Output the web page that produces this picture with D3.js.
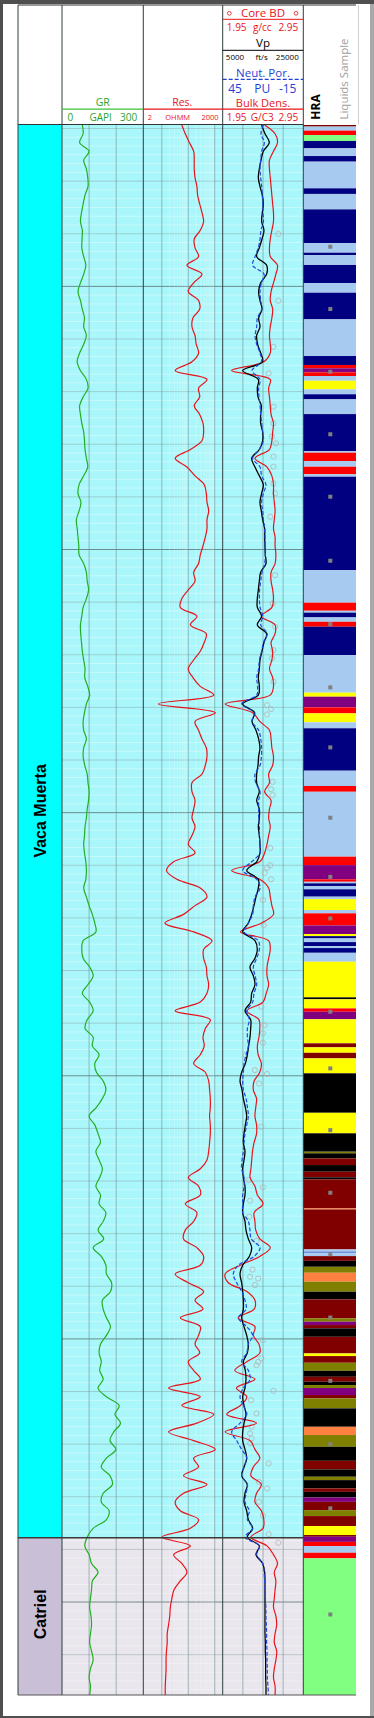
<!DOCTYPE html>
<html><head><meta charset="utf-8">
<script src="https://cdn.jsdelivr.net/npm/d3@7"></script>
<style>body{margin:0;background:#fff}svg{display:block}</style>
</head><body><svg id="c" width="374" height="1718"></svg>
<script>
// ---------------- DATA ----------------
const DEPTH_TOP = 9058, DEPTH_STEP = 5, DEPTH_BASE = 9953;

const GR = [75,78,65,100,80,90,95,96,85,78,72,68,75,74,73,80,88,80,68,59,68,75,83,80,90,
80,65,56,68,90,96,78,65,68,73,80,83,85,90,95,80,63,59,70,63,53,56,59,62,63,
80,90,93,98,90,78,73,68,69,72,75,80,85,84,95,102,90,83,78,80,90,80,78,84,93,
96,100,98,93,90,85,83,80,83,88,90,88,80,90,100,112,121,125,78,73,78,102,115,96,75,
102,115,93,85,115,112,137,121,127,152,162,149,127,100,121,133,142,125,137,149,139,125,142,137,162,
152,133,154,115,145,162,164,183,179,149,152,164,179,164,142,137,145,139,152,133,164,211,195,216,191,
177,199,164,145,177,186,152,145,174,164,115,93,84,100,109,133,112,109,105,102,107,109,105,102,109,115,105,100,105,102];

const RES = [57,77,110,160,168,168,180,212,225,270,330,380,285,168,180,245,89,330,160,100,245,270,150,138,180,
200,245,138,32,510,245,270,168,270,360,380,330,120,32,89,180,400,480,510,590,510,510,440,360,285,
245,160,180,100,57,50,212,120,480,400,285,160,100,150,285,920,7.5,1050,180,245,330,480,510,440,330,
138,138,180,160,138,180,138,100,180,28,15,37,285,510,180,66,13,160,790,380,380,480,510,590,510,
285,32,680,440,360,400,285,160,440,590,640,680,680,640,680,680,640,590,510,285,100,245,285,77,212,
160,77,66,212,380,285,32,100,380,180,360,50,285,245,180,270,100,160,285,18,285,57,920,212,18,
160,1050,160,245,66,510,66,32,50,245,120,10,120,28,57,89,50,29,24,21,20,18,16,16,15,14.5,14.5,14,13.5,13.5];

const VP = [14660,15490,16560,15080,14500,14090,13840,14250,14830,15080,14830,14660,15240,14750,14090,13430,15900,15900,14420,13920,14250,14750,13920,14250,13430,
13670,14420,14910,9960,13840,13590,13760,14580,14420,14420,14910,14910,14090,12190,13010,14090,15080,14660,14250,14580,14910,15410,15410,15490,15570,
15740,14420,14090,13840,13590,13590,14660,13590,15900,15240,14750,14250,14090,13840,14090,13840,9960,12930,12270,13260,13920,14250,13920,13760,13430,
13430,14090,13430,14090,14090,13840,14090,14250,14250,13430,10950,13840,13840,13260,12760,12190,11360,9960,13010,13590,13010,11770,12600,13010,12190,
11940,10530,11940,11940,11770,11440,11110,10620,9700,9300,9790,10120,10620,10950,10620,10290,10120,10530,10290,9960,10120,10530,10530,10120,9960,
10530,10780,11360,12190,11610,9960,9300,9700,9960,10120,10120,9700,10290,10950,11360,11110,10120,10620,10780,10530,9960,10290,10780,10290,9960,
9960,10530,10950,10290,9700,11110,10530,10290,10950,11360,12430,11110,14090,13260,14910,15410,15490,15490,15490,15490,15490,15490,15490,15570,15570,15660,15660,15660,15740,15740];

const NPHI = [14.7,16.5,14.0,16.0,16.7,17.2,16.7,16.0,15.5,15.2,15.0,14.7,16.5,17.2,18.5,20.9,22.7,14.2,16.2,17.2,16.7,16.0,19.2,19.7,20.9,
19.7,17.2,16.2,23.2,17.2,18.2,18.0,17.2,16.7,16.0,15.2,14.7,17.7,22.7,17.2,16.0,12.8,14.7,16.0,15.2,14.7,13.8,13.5,13.5,13.3,
13.8,15.7,16.7,17.5,17.7,17.2,15.2,16.7,11.8,14.7,16.0,17.7,18.2,19.7,19.0,19.7,30.9,21.7,23.2,18.2,16.7,16.0,16.2,17.2,20.9,
20.4,17.2,18.2,18.2,18.2,17.7,17.7,17.2,17.2,23.4,30.1,19.7,17.2,20.9,22.2,22.7,25.9,29.1,18.5,17.7,19.7,22.2,20.9,19.7,21.7,
22.7,27.1,25.2,26.6,26.6,25.9,27.6,29.1,29.6,30.1,29.6,27.6,26.6,25.9,27.1,28.4,29.1,29.6,30.6,30.9,29.1,29.1,30.1,30.1,30.1,
25.9,24.7,23.7,17.2,21.7,33.3,37.1,34.6,30.9,28.4,27.6,33.3,27.1,22.7,25.9,27.1,30.9,25.9,24.7,29.6,32.1,29.6,27.1,32.1,38.3,
34.6,30.9,27.1,29.1,30.9,26.6,27.6,28.4,25.2,26.6,22.7,28.4,17.7,19.7,15.2,14.2,13.8,13.5,13.3,12.8,12.8,12.5,12.3,12.3,12.0,12.0,11.8,11.8,11.3,11.0];

const RHOB = [2.47,2.60,2.63,2.58,2.53,2.53,2.54,2.55,2.56,2.57,2.58,2.58,2.56,2.54,2.53,2.54,2.63,2.61,2.58,2.55,2.54,2.57,2.56,2.54,2.53,
2.54,2.54,2.46,2.06,2.54,2.52,2.53,2.54,2.55,2.58,2.57,2.56,2.53,2.35,2.50,2.56,2.58,2.58,2.59,2.60,2.59,2.58,2.60,2.60,2.61,
2.60,2.55,2.55,2.57,2.58,2.56,2.43,2.60,2.60,2.55,2.57,2.56,2.53,2.57,2.58,2.54,1.98,2.32,2.41,2.53,2.55,2.56,2.58,2.57,2.52,
2.53,2.47,2.55,2.53,2.52,2.54,2.52,2.50,2.47,2.41,2.06,2.41,2.52,2.54,2.56,2.58,2.43,2.17,2.52,2.54,2.52,2.50,2.50,2.52,2.49,
2.45,2.25,2.40,2.41,2.40,2.38,2.39,2.43,2.41,2.34,2.33,2.37,2.36,2.35,2.37,2.37,2.34,2.32,2.31,2.30,2.29,2.35,2.38,2.45,2.34,
2.35,2.36,2.41,2.54,2.41,2.17,1.98,2.02,2.25,2.35,2.34,2.14,2.35,2.33,2.40,2.41,2.25,2.10,2.35,2.12,2.25,2.17,2.00,2.37,1.98,
2.29,2.35,2.41,2.33,2.30,2.43,2.37,2.35,2.43,2.46,2.45,2.30,2.50,2.58,2.63,2.59,2.61,2.60,2.59,2.58,2.61,2.62,2.60,2.59,2.62,2.61,2.59,2.58,2.60,2.60];

const CORE_DEPTH = [9120.1,9158.2,9184.4,9199.6,9218.6,9228.0,9235.7,9239.5,9247.0,9252.8,9262.3,9268.0,9281.3,9314.6,9330.7,9344.0,9357.3,9362.0,9375.4,9388.7,
9391.0,9394.0,9432.4,9436.6,9440.0,9470.2,9480.0,9481.5,9484.3,9488.0,9499.8,9514.1,9560.7,9571.1,9575.8,9581.2,9588.2,9596.8,9599.0,9604.4,
9629.1,9659.5,9663.6,9671.2,9680.3,9694.1,9710.5,9714.6,9715.6,9719.3,9750.7,9761.1,9763.1,9765.0,9779.6,9784.9,9792.5,9800.1,9803.9,9806.7,
9809.6,9821.0,9831.5,9835.3,9842.9,9850.8,9861.3,9866.2];
const CORE_BD = [2.64,2.64,2.58,2.52,2.58,2.58,2.56,2.61,2.58,2.58,2.58,2.60,2.54,2.60,2.57,2.60,2.58,2.56,2.58,2.50,
2.55,2.50,2.57,2.55,2.57,2.54,2.54,2.50,2.47,2.55,2.45,2.46,2.43,2.47,2.45,2.45,2.23,2.35,2.50,2.40,
2.43,2.27,2.45,2.29,2.28,2.37,2.32,2.29,2.39,2.35,2.45,2.43,2.39,2.37,2.58,2.30,2.37,2.31,2.29,2.31,
2.29,2.52,2.40,2.50,2.40,2.45,2.52,2.64];

const HRA_TOP = [9058.0,9058.9,9061.2,9063.7,9067.1,9071.3,9075.7,9078.9,9094.1,9097.3,
9106.1,9125.4,9130.8,9132.1,9137.8,9148.2,9153.6,9168.8,9189.7,9194.8,
9196.7,9199.0,9201.1,9203.8,9208.7,9211.5,9214.4,9222.8,9243.9,9244.8,
9249.6,9252.8,9257.1,9258.5,9311.7,9330.3,9334.9,9336.0,9338.7,9341.2,
9344.0,9360.2,9381.6,9383.9,9390.0,9393.4,9398.5,9401.9,9426.1,9434.8,
9438.1,9475.1,9479.9,9488.0,9489.4,9490.3,9491.8,9493.7,9497.9,9499.3,
9505.5,9507.4,9514.3,9519.2,9520.4,9521.7,9523.8,9526.1,9527.2,9529.9,
9535.0,9555.3,9556.4,9561.6,9563.5,9567.8,9581.5,9583.8,9586.9,9590.1,
9598.6,9621.1,9632.8,9643.3,9644.2,9647.1,9650.9,9654.7,9657.9,9659.1,
9675.6,9676.2,9699.0,9700.1,9701.2,9702.8,9705.5,9708.9,9712.3,9717.4,
9723.1,9727.5,9738.3,9740.2,9742.1,9744.0,9748.8,9758.3,9759.8,9763.6,
9768.2,9771.6,9774.4,9776.3,9778.0,9782.0,9783.9,9789.6,9800.1,9804.8,
9811.5,9819.5,9824.4,9828.6,9830.5,9835.2,9837.2,9840.4,9842.9,9847.6,
9851.0,9856.7,9861.8,9862.8,9865.7,9868.1,9871.9,9875.1];
const HRA_FACIES = ["D","L","R","G","N","L","N","L","N","L",
"N","L","N","L","N","L","N","L","N","R",
"P","R","L","Y","L","N","L","N","L","R",
"L","R","L","N","L","R","L","N","L","R",
"N","L","Y","P","R","Y","L","N","L","R",
"L","R","P","R","L","N","L","N","L","Y",
"L","R","P","Y","N","L","N","L","N","L",
"Y","K","Y","R","P","Y","D","Y","D","Y",
"K","Y","K","O","K","D","K","D","K","D",
"A","D","L","M","L","D","K","O","A","O",
"K","D","O","P","D","K","D","Y","D","O",
"K","D","K","O","P","D","O","K","A","O",
"K","D","K","O","K","D","K","P","D","O",
"D","Y","D","P","R","L","R","G"];
const FACIES_COLOR = {N:"#000080",L:"#A6CAF0",R:"#FF0000",G:"#80FF80",Y:"#FFFF00",P:"#800080",
  K:"#000000",D:"#800000",O:"#808000",A:"#FF8040",M:"#6A8FD8"};

const SAMPLE_DEPTH = [9127.4,9162.9,9198.7,9234.3,9269.9,9306.4,9342.5,9378.6,9412.8,9452.9,9486.6,
9510.3,9563.5,9595.8,9631.0,9666.7,9701.7,9737.8,9773.9,9810.0,9846.6,9907.1];

const ZONE_NAMES = ["Vaca Muerta","Catriel"];
const ZONE_TOPS = [9058, 9863.4];
const ZONE_LABEL_DEPTH = [9449, 9907];

// --------------- DRAW ----------------
const svg = d3.select("#c");
const FONT = "'Open Sans', 'Liberation Sans', sans-serif";
const X = {zone:[18,62], gr:[62,143.3], res:[143.3,222.7], den:[222.7,303.3], hra:[303.3,356]};
const HY0 = 5, HY1 = 124.5, DY0 = 125, DY1 = 1695;
const y = d3.scaleLinear().domain([DEPTH_TOP, DEPTH_BASE]).range([DY0, DY1]);
const depths = GR.map((_, i) => DEPTH_TOP + i * DEPTH_STEP);

const xGR = d3.scaleLinear().domain([0,300]).range(X.gr);
const xRES = d3.scaleLog().domain([2,2000]).range(X.res);
const xRHOB = d3.scaleLinear().domain([1.95,2.95]).range(X.den);
const xVP = d3.scaleLinear().domain([5000,25000]).range(X.den);
const xNPHI = d3.scaleLinear().domain([45,-15]).range(X.den);

// frame
svg.append("rect").attr("width",374).attr("height",1718).attr("fill","#4f4f4f");
svg.append("rect").attr("x",3).attr("y",4).attr("width",367.5).attr("height",1712).attr("fill","#fff");
svg.append("rect").attr("x",370.5).attr("y",4).attr("width",3.5).attr("height",1712).attr("fill","#a9a9a9");

// zone backgrounds
const zoneFill = ["#00FFFF","#C9BFD6"], trackFill = ["#A9F7FB","#E9E6ED"];
ZONE_TOPS.forEach((t,i) => {
  const b = i < ZONE_TOPS.length-1 ? ZONE_TOPS[i+1] : DEPTH_BASE;
  svg.append("rect").attr("x",X.zone[0]).attr("y",y(t)).attr("width",X.zone[1]-X.zone[0]).attr("height",y(b)-y(t)).attr("fill",zoneFill[i]);
  svg.append("rect").attr("x",X.gr[0]).attr("y",y(t)).attr("width",X.den[1]-X.gr[0]).attr("height",y(b)-y(t)).attr("fill",trackFill[i]);
});

// grid
const grid = svg.append("g");
const hl = (d, col, op, w) => grid.append("line").attr("x1",X.gr[0]).attr("x2",X.den[1]).attr("y1",y(d)).attr("y2",y(d))
  .attr("stroke",col).attr("stroke-opacity",op).attr("stroke-width",w);
d3.range(9060, DEPTH_BASE, 5).forEach(d => {
  if (d % 150 === 0) hl(d,"#5f7a7c",0.85,1);
  else if (d % 30 === 0) hl(d,"#8a9ea0",0.45,1);
  else hl(d,"#ffffff",0.45,0.8);
});
const vl = (x, col, op, w) => grid.append("line").attr("x1",x).attr("x2",x).attr("y1",DY0).attr("y2",DY1)
  .attr("stroke",col).attr("stroke-opacity",op).attr("stroke-width",w);
[20,30,40,50,60,70,80,90,200,300,400,500,600,700,800,900].forEach(v => vl(xRES(v),"#ffffff",0.3,0.8));
[100,200].forEach(v => vl(xGR(v),"#6f8f92",0.6,1));
[10,100,1000].forEach(v => vl(xRES(v),"#6f8f92",0.6,1));
[2.20,2.45,2.70].forEach(v => vl(xRHOB(v),"#6f8f92",0.6,1));

// clip paths
const defs = svg.append("defs");
["gr","res","den"].forEach(k => defs.append("clipPath").attr("id","clip-"+k).append("rect")
  .attr("x",X[k][0]).attr("y",DY0).attr("width",X[k][1]-X[k][0]).attr("height",DY1-DY0));

const curve = (vals, xs, col, w, dash, clip) => {
  const line = d3.line().x(d => xs(d[1])).y(d => y(d[0])).curve(d3.curveCatmullRom.alpha(0.5));
  const p = svg.append("path").attr("d", line(vals.map((v,i) => [depths[i], v])))
    .attr("fill","none").attr("stroke",col).attr("stroke-width",w).attr("clip-path","url(#clip-"+clip+")")
    .attr("stroke-linejoin","round");
  if (dash) p.attr("stroke-dasharray",dash);
};
curve(GR, xGR, "#22b022", 1.2, null, "gr");
curve(RES, xRES, "#e8141c", 1.2, null, "res");

// core BD
svg.append("g").attr("clip-path","url(#clip-den)").selectAll("circle").data(CORE_DEPTH.map((d,i)=>[d,CORE_BD[i]]))
  .join("circle").attr("cx",d=>xRHOB(d[1])).attr("cy",d=>y(d[0])).attr("r",2.6)
  .attr("fill","none").attr("stroke","#b4b4b4").attr("stroke-width",0.8);
curve(RHOB, xRHOB, "#e8141c", 1.2, null, "den");
curve(VP, xVP, "#000000", 1.3, null, "den");
curve(NPHI, xNPHI, "#1f47e0", 1.2, "4,2", "den");

// HRA
HRA_TOP.forEach((t,i) => {
  const b = i < HRA_TOP.length-1 ? HRA_TOP[i+1] : DEPTH_BASE;
  svg.append("rect").attr("x",X.hra[0]).attr("y",y(t)).attr("width",X.hra[1]-X.hra[0])
    .attr("height",Math.max(0.5,y(b)-y(t))).attr("fill",FACIES_COLOR[HRA_FACIES[i]]);
});
svg.selectAll("rect.smp").data(SAMPLE_DEPTH).join("rect").attr("class","smp")
  .attr("x",328.3).attr("y",d=>y(d)-2).attr("width",4).attr("height",4).attr("fill","#808080");

// zone boundary line
ZONE_TOPS.slice(1).forEach(t => svg.append("line").attr("x1",X.zone[0]).attr("x2",X.den[1])
  .attr("y1",y(t)).attr("y2",y(t)).attr("stroke","#3a3a3a").attr("stroke-width",1.5));

// zone labels
ZONE_NAMES.forEach((n,i) => {
  svg.append("text").attr("transform",`translate(${(X.zone[0]+X.zone[1])/2+6},${y(ZONE_LABEL_DEPTH[i])}) rotate(-90)`)
    .attr("text-anchor","middle").attr("font-family","'Liberation Sans', Arial, sans-serif").attr("font-weight","bold")
    .attr("font-size",16).attr("fill","#000").text(n);
});

// borders
const bl = (x1,y1,x2,y2,col,w) => svg.append("line").attr("x1",x1).attr("y1",y1).attr("x2",x2).attr("y2",y2)
  .attr("stroke",col||"#333").attr("stroke-width",w||1);
[18,62,143.3,222.7,303.3].forEach(x => bl(x,HY0,x,DY1,"#2f3f40",1));
bl(18,HY0,356,HY0,"#333",1);
bl(18,HY1,303.3,HY1,"#333",1);
bl(18,DY1,356,DY1,"#555",1);
bl(358.5,HY0,358.5,HY1,"#cfcfcf",1);

// header
const T = (x,yy,s,col,size,anchor,weight) => svg.append("text").attr("x",x).attr("y",yy).attr("fill",col)
  .attr("font-size",size).attr("font-family",FONT).attr("text-anchor",anchor||"middle")
  .attr("font-weight",weight||"normal").text(s);
const GREEN="#2aa52a", RED="#e8141c", BLUE="#1f3fd8";
// GR
T(102.7,106.3,"GR",GREEN,10.5);
bl(62,109.2,143.3,109.2,"#3cc03c",1.3);
T(70.3,120.6,"0",GREEN,10); T(100.7,120.6,"GAPI",GREEN,10); T(128.7,120.6,"300",GREEN,10);
// Res
T(182.3,106.3,"Res.",RED,10.5);
bl(143.3,109.2,222.7,109.2,RED,1.3);
T(150,119.5,"2",RED,7.5); T(177.7,119.5,"OHMM",RED,7.5); T(210,119.5,"2000",RED,7.5);
// Density track header
svg.append("circle").attr("cx",229.3).attr("cy",13.3).attr("r",1.9).attr("fill","none").attr("stroke",RED).attr("stroke-width",0.8);
svg.append("circle").attr("cx",296).attr("cy",13.3).attr("r",1.9).attr("fill","none").attr("stroke",RED).attr("stroke-width",0.8);
T(263,17.3,"Core BD",RED,11.5);
bl(222.7,19.3,303.3,19.3,RED,1);
T(236.7,31,"1.95",RED,10); T(262.3,31,"g/cc",RED,10); T(288.3,31,"2.95",RED,10);
T(263,46.7,"Vp","#000",11.5);
bl(222.7,50.3,303.3,50.3,"#000",1);
T(235,60,"5000","#000",8); T(261.7,60,"ft/s","#000",8); T(287.3,60,"25000","#000",8);
T(263,76.7,"Neut. Por.",BLUE,11.5);
svg.append("line").attr("x1",222.7).attr("x2",303.3).attr("y1",79.3).attr("y2",79.3).attr("stroke",BLUE)
  .attr("stroke-width",1.2).attr("stroke-dasharray","4,2");
T(235,92.5,"45",BLUE,12); T(262.3,92.5,"PU",BLUE,12); T(287.7,92.5,"-15",BLUE,12);
T(263,106.5,"Bulk Dens.",RED,11);
bl(222.7,109.2,303.3,109.2,RED,1.3);
T(236.7,120.6,"1.95",RED,10); T(262.3,120.6,"G/C3",RED,10); T(288.3,120.6,"2.95",RED,10);
// HRA & Liquids Sample
svg.append("text").attr("transform","translate(319.5,107) rotate(-90)").attr("text-anchor","middle")
  .attr("font-family",FONT).attr("font-weight","bold").attr("font-size",12).attr("fill","#000").text("HRA");
svg.append("text").attr("transform","translate(347.5,79) rotate(-90)").attr("text-anchor","middle")
  .attr("font-family",FONT).attr("font-size",11.5).attr("fill","#a0a0a0").text("Liquids Sample");
</script></body></html>
